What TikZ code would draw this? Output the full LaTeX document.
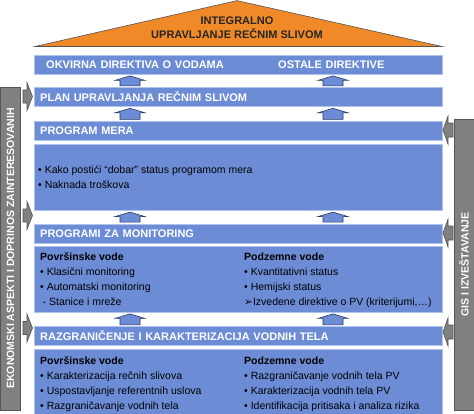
\documentclass[tikz,border=0pt]{standalone}
\usepackage{fontspec}
\setmainfont{Liberation Sans}
\newfontfamily\dejavu{DejaVu Sans}
\usetikzlibrary{positioning,calc}

\definecolor{bandblue}{RGB}{108,140,214}
\definecolor{bandline}{RGB}{175,195,238}
\definecolor{roofor}{RGB}{240,138,40}
\definecolor{sidegray}{RGB}{128,128,128}
\definecolor{sideline}{RGB}{85,85,85}
\definecolor{arrline}{RGB}{40,55,100}

\tikzset{
  band/.style={draw=bandline,fill=bandblue,minimum width=408pt,minimum height=19pt,inner sep=0pt,
    text width=396pt,align=left,text=white,font=\bfseries\fontsize{11}{13}\selectfont,
    text height=8pt,text depth=0pt},
  bandbody/.style={draw=bandline,fill=bandblue,minimum width=408pt,inner sep=0pt},
  bodytext/.style={inner sep=0pt,align=left,font=\fontsize{10.5}{15.3}\selectfont},
  sidebar/.style={draw=sideline,fill=sidegray,inner sep=0pt,rotate=90,minimum height=20pt,
    text=white,font=\bfseries\fontsize{10.5}{12}\selectfont},
  upblk/.style={draw=arrline,fill=bandblue,line width=0.6pt},
  sideblk/.style={draw=sideline,fill=sidegray,line width=0.6pt}
}

% block arrow pointing up between two bands
\newcommand{\upblock}[3]{%
  \draw[upblk] let \p1=(#1,0 |- #2.north), \p2=(#1,0 |- #3.south) in
    (\x1-10pt,\y1+1.5pt) -- (\x1-10pt,\y2-6pt) -- (\x1-15pt,\y2-6pt) -- (\x1,\y2-1.5pt)
    -- (\x1+15pt,\y2-6pt) -- (\x1+10pt,\y2-6pt) -- (\x1+10pt,\y1+1.5pt) -- cycle;}
% side arrows
\newcommand{\rightblk}[1]{%
  \draw[sideblk] (23,#1-6.5) -- (27,#1-6.5) -- (27,#1-14) -- (32.5,#1) -- (27,#1+14)
    -- (27,#1+6.5) -- (23,#1+6.5) -- cycle;}
\newcommand{\leftblk}[1]{%
  \draw[sideblk] (453,#1-7) -- (448,#1-7) -- (448,#1-14) -- (443,#1) -- (448,#1+14)
    -- (448,#1+7) -- (453,#1+7) -- cycle;}

\begin{document}
\begin{tikzpicture}[x=1pt,y=-1pt]
\useasboundingbox (0,0) rectangle (474,413);

% roof
\draw[draw=sideline,fill=roofor,line width=0.6pt] (35,46.5) -- (237,0.6) -- (442,46.5) -- cycle;
\node[align=center,font=\bfseries\fontsize{11}{14}\selectfont,text=black!85] (roof) at (237,28)
  {INTEGRALNO\\UPRAVLJANJE REČNIM SLIVOM};

% bands
\node[band,anchor=north west] (okvirna) at (34,55)
  {\hspace*{6pt}\makebox[232pt][l]{OKVIRNA DIREKTIVA O VODAMA}OSTALE DIREKTIVE};
\node[band,below=13pt of okvirna] (plan) {PLAN UPRAVLJANJA REČNIM SLIVOM};
\node[band,below=14pt of plan] (mera) {PROGRAM MERA};
\node[bandbody,minimum height=66pt,below=4pt of mera] (merabody) {};
\node[band,below=13pt of merabody] (monitor) {PROGRAMI ZA MONITORING};
\node[bandbody,minimum height=66pt,below=3pt of monitor] (monbody) {};
\node[band,below=14pt of monbody] (razgr) {RAZGRANIČENJE I KARAKTERIZACIJA VODNIH TELA};
\node[bandbody,minimum height=67pt,below=3pt of razgr] (razgrbody) {};

% body texts
\node[bodytext,below right=18.3pt and 4pt of merabody.north west] (meratxt)
  {\strut• Kako postići “dobar” status programom mera\\• Naknada troškova};
\node[bodytext,below right=3.1pt and 6pt of monbody.north west] (monleft)
  {\strut\textbf{Površinske vode}\\• Klasični monitoring\\• Automatski monitoring\\\hspace*{2.5pt}- Stanice i mreže};
\node[bodytext,below right=3.1pt and 210pt of monbody.north west] (monright)
  {\strut\textbf{Podzemne vode}\\• Kvantitativni status\\• Hemijski status\\{\dejavu ➢}Izvedene direktive o PV (kriterijumi,…)};
\node[bodytext,below right=4.3pt and 6pt of razgrbody.north west] (razgrleft)
  {\strut\textbf{Površinske vode}\\• Karakterizacija rečnih slivova\\• Uspostavljanje referentnih uslova\\• Razgraničavanje vodnih tela};
\node[bodytext,below right=4.3pt and 210pt of razgrbody.north west] (razgrright)
  {\strut\textbf{Podzemne vode}\\• Razgraničavanje vodnih tela PV\\• Karakterizacija vodnih tela PV\\• Identifikacija pritisaka i analiza rizika};

% arrows between bands
\upblock{130}{plan}{okvirna}
\upblock{333}{plan}{okvirna}
\upblock{130}{mera}{plan}
\upblock{333}{mera}{plan}
\upblock{130}{monitor}{merabody}
\upblock{333}{monitor}{merabody}
\upblock{130}{razgr}{monbody}
\upblock{333}{razgr}{monbody}

% side bars
\node[sidebar,minimum width=323pt] (ekonom) at (10.5,248.5)
  {EKONOMSKI ASPEKTI I DOPRINOS ZAINTERESOVANIH};
\node[sidebar,minimum width=291pt] (gis) at (464,264.5) {GIS I IZVEŠTAVANJE};

\rightblk{96.5}
\rightblk{215.5}
\rightblk{328}
\leftblk{130}
\leftblk{233}
\leftblk{332}
\end{tikzpicture}
\end{document}
